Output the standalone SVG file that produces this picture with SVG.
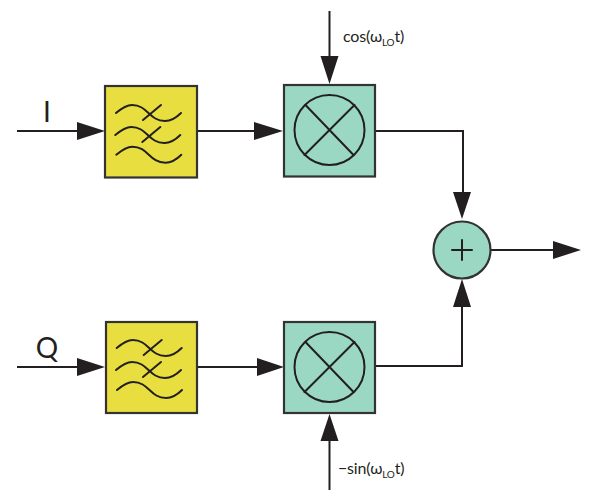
<svg xmlns="http://www.w3.org/2000/svg" width="595" height="502" viewBox="0 0 595 502">
<style>
.box{stroke:#333;stroke-width:2.200}
.lpf{fill:#e9de3f}
.mix{fill:#9bd8c4}
.ink{fill:none;stroke:#231f20;stroke-width:2;stroke-linecap:round}
.wire{fill:none;stroke:#231f20;stroke-width:2}
.head{fill:#231f20}
text{font-family:"Lato","Liberation Sans",sans-serif;fill:#231f20}
.lbl{font-size:16px;letter-spacing:-0.2px}
.sub{font-size:10px}
.big{font-size:28px;font-weight:400}
</style>
<defs>
<g id="filt">
<path id="w" class="ink" d="M0 0C6 -5 11 -8 16 -8C32 -8 33 8 49 8C55 8 60 5 65 0"/>
</g>
<g id="cross"><path class="ink" d="M27 7L45 -8"/></g>
<g id="mx"><circle class="ink" r="35"/><path class="ink" d="M-24 -25L24 25M-25 25L25 -25"/></g>
</defs>
<g id="connectors">
<path class="wire" d="M17 131H78M196 131H255M329.500 11V56M375 131H463V192M491 250H554M462 306V366H375M17 367H78M197 367H258M329.500 490V440"/>
<path class="head" d="M77 122L105 131L77 140ZM254 122L283 131L254 140ZM320.500 56H338.500L329.500 84ZM453 192H471L462 219ZM553 241L581 250L553 259ZM453 307H471L462 279ZM77 358L105 367L77 376ZM257 358L284 367L257 376ZM320.500 441H338.500L329.500 414Z"/>
</g>
<g id="filter-i"><rect class="box lpf" x="105" y="86" width="92" height="91.500"/>
<use href="#filt" x="116" y="113"/><use href="#cross" x="116" y="113"/>
<use href="#filt" x="115.300" y="135"/><use href="#cross" x="115.300" y="135"/>
<use href="#filt" x="116.300" y="154.700"/></g>
<g id="filter-q"><rect class="box lpf" x="106" y="322" width="91" height="91"/>
<use href="#filt" x="116.700" y="348"/><use href="#cross" x="116.700" y="348"/>
<use href="#filt" x="116" y="370"/><use href="#cross" x="116" y="370"/>
<use href="#filt" x="117" y="390"/></g>
<g id="mixer-i"><rect class="box mix" x="284" y="85" width="91" height="91.500"/><use href="#mx" x="329.500" y="130"/></g>
<g id="mixer-q"><rect class="box mix" x="284" y="322" width="91" height="91"/><use href="#mx" x="329.500" y="367"/></g>
<g id="sum"><circle class="box mix" cx="462" cy="250" r="28.500"/><path class="ink" d="M452 250H472M462 240V260"/></g>
<g id="labels">
<text class="big" x="47" y="122" text-anchor="middle">I</text>
<text class="big" x="47" y="358" text-anchor="middle">Q</text>
<text class="lbl" x="343" y="42">cos(ω<tspan class="sub" dy="4">LO</tspan><tspan dy="-4">t)</tspan></text>
<text class="lbl" x="338" y="474">−sin(ω<tspan class="sub" dy="4">LO</tspan><tspan dy="-4">t)</tspan></text>
</g>
</svg>
